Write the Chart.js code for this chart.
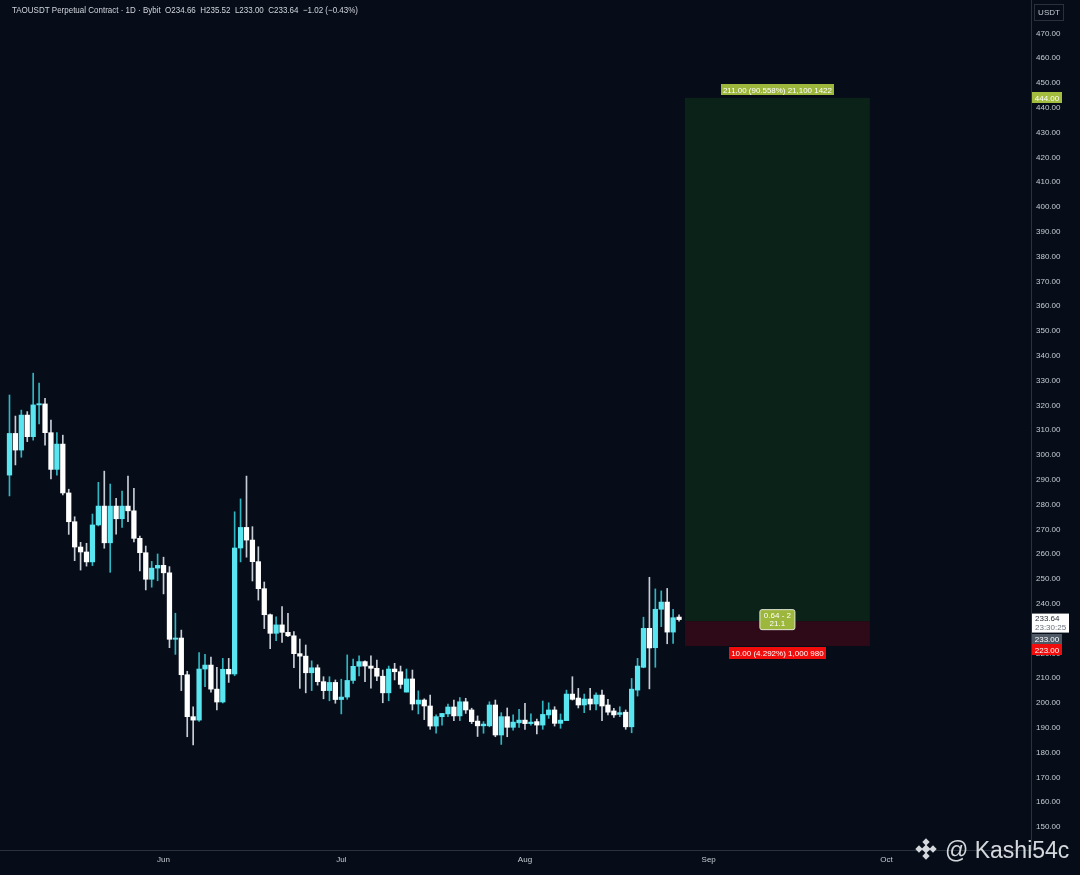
<!DOCTYPE html>
<html>
<head>
<meta charset="utf-8">
<title>TAOUSDT 1D</title>
<script src="https://cdn.jsdelivr.net/npm/chart.js@4.4.1/dist/chart.umd.min.js"></script>
<style>
  html, body { margin: 0; padding: 0; background: #060d18; }
  #wrap { position: relative; width: 1080px; height: 875px; }
</style>
</head>
<body>
<div id="wrap"><canvas id="chart" width="1080" height="875"></canvas></div>
<script>
// Daily candles, May 6 -> Aug 27 (one entry per day)
const opens = [
  291.9, 308.7, 302.0, 316.1, 307.4, 320.2, 320.6, 309.0, 294.2, 304.4,
  284.7, 273.1, 262.9, 260.9, 256.9, 271.8, 279.4, 264.6, 279.4, 274.3,
  279.4, 277.5, 266.4, 260.6, 249.9, 254.4, 255.5, 252.5, 225.7, 226.2,
  211.4, 194.5, 193.1, 213.7, 215.3, 205.6, 200.4, 213.6, 211.7, 262.5,
  270.8, 265.7, 257.0, 246.1, 235.6, 228.1, 231.5, 228.5, 227.1, 219.9,
  218.9, 212.2, 214.2, 208.6, 205.0, 208.3, 201.4, 202.4, 209.1, 214.8,
  216.7, 214.9, 214.0, 210.8, 204.1, 213.7, 212.6, 204.4, 209.7, 199.6,
  201.2, 198.8, 190.7, 194.5, 195.6, 198.4, 194.8, 200.5, 197.2, 192.7,
  190.8, 190.8, 199.2, 187.1, 194.5, 190.2, 192.0, 193.1, 191.7, 192.5,
  191.1, 195.2, 197.2, 191.8, 192.9, 203.6, 202.0, 199.2, 201.6, 199.6,
  203.2, 199.2, 196.8, 195.4, 196.3, 190.4, 205.2, 214.4, 230.1, 222.3,
  237.8, 240.7, 228.6, 234.66
];
const highs = [
  324.2, 315.7, 318.1, 317.5, 333.0, 329.0, 322.9, 314.1, 309.0, 308.0,
  286.2, 275.1, 264.8, 264.4, 276.2, 289.0, 293.5, 288.3, 282.5, 285.5,
  291.5, 286.6, 267.3, 263.3, 257.1, 260.1, 258.8, 255.0, 236.2, 229.4,
  212.8, 198.5, 220.3, 219.6, 218.5, 214.4, 218.0, 218.0, 277.1, 282.3,
  291.5, 271.1, 263.0, 248.8, 235.9, 234.7, 238.9, 236.2, 228.8, 225.8,
  223.4, 217.0, 215.4, 210.6, 210.6, 209.3, 209.6, 219.4, 217.7, 219.0,
  217.0, 219.0, 217.3, 213.3, 214.9, 216.0, 214.9, 213.7, 213.3, 204.9,
  201.7, 203.2, 195.2, 195.8, 199.6, 201.2, 202.2, 201.9, 197.9, 194.8,
  192.5, 200.5, 201.2, 196.1, 198.0, 195.2, 197.5, 199.9, 195.6, 193.5,
  200.8, 200.1, 198.5, 195.6, 205.2, 210.6, 205.9, 203.6, 205.9, 204.1,
  205.2, 201.5, 197.9, 198.5, 197.2, 209.9, 218.0, 234.6, 250.7, 246.0,
  245.2, 246.2, 237.8, 235.52
];
const lows = [
  283.5, 296.0, 299.1, 305.4, 306.0, 312.5, 304.0, 290.4, 291.9, 283.9,
  268.0, 257.4, 253.6, 255.2, 255.4, 271.4, 262.4, 252.7, 268.1, 270.8,
  273.1, 265.0, 253.3, 245.6, 246.7, 249.3, 244.0, 222.3, 219.6, 205.0,
  186.4, 183.1, 192.6, 206.6, 204.4, 197.2, 200.0, 208.3, 211.0, 256.9,
  258.8, 249.2, 241.5, 230.0, 221.9, 225.1, 224.4, 226.7, 214.2, 205.9,
  204.1, 205.0, 207.2, 201.7, 200.9, 199.9, 195.6, 201.5, 207.9, 210.9,
  208.6, 206.0, 209.0, 200.1, 200.9, 209.3, 205.9, 204.4, 197.2, 195.6,
  193.3, 189.4, 187.8, 191.1, 194.5, 192.9, 192.9, 195.8, 191.7, 186.5,
  187.8, 190.4, 186.4, 183.3, 186.4, 189.0, 190.2, 189.4, 191.1, 187.5,
  189.4, 193.8, 190.7, 189.8, 192.9, 201.2, 198.0, 196.1, 197.2, 197.2,
  192.9, 195.2, 194.2, 194.5, 189.4, 188.0, 202.8, 214.2, 205.7, 214.4,
  230.8, 223.9, 224.0, 233.00
];
const closes = [
  308.7, 302.0, 316.1, 307.4, 320.2, 320.6, 309.0, 294.2, 304.4, 284.7,
  273.1, 262.9, 260.9, 256.9, 271.8, 279.4, 264.6, 279.4, 274.3, 279.4,
  277.5, 266.4, 260.6, 249.9, 254.4, 255.5, 252.5, 225.7, 226.2, 211.4,
  194.5, 193.1, 213.7, 215.3, 205.6, 200.4, 213.6, 211.7, 262.5, 270.8,
  265.7, 257.0, 246.1, 235.6, 228.1, 231.5, 228.5, 227.1, 219.9, 218.9,
  212.2, 214.2, 208.6, 205.0, 208.3, 201.4, 202.4, 209.1, 214.8, 216.7,
  214.9, 214.0, 210.8, 204.1, 213.7, 212.6, 207.5, 209.7, 199.6, 201.2,
  198.8, 190.7, 194.5, 195.8, 198.4, 194.8, 200.5, 197.2, 192.5, 190.8,
  191.5, 199.2, 187.1, 194.5, 190.2, 192.3, 193.1, 191.7, 192.3, 191.1,
  195.4, 197.2, 191.8, 193.1, 203.6, 201.5, 199.2, 201.6, 199.6, 203.2,
  198.8, 196.3, 195.2, 196.1, 190.4, 205.6, 214.9, 230.1, 222.2, 237.8,
  240.7, 228.6, 234.4, 233.64
];

// x axis month ticks (candle index of the 1st of each month)
const monthLabels = ['Jun', 'Jul', 'Aug', 'Sep', 'Oct'];
const monthStarts = [26, 56, 87, 118, 148];

// long position tool
const entryPrice = 233.00;
const targetPrice = 444.00;
const stopPrice = 223.00;
const lastPrice = 233.64;

const upBody = '#5ae6f0';
const downBody = '#ffffff';
const upWick = '#2fb6c2';
const downWick = '#c9ced6';
const textColor = '#c7cbd3';
const FONT = '"Liberation Sans", Arial, sans-serif';

const isUp = opens.map((o, i) => closes[i] >= o);

function tag(ctx, text, cx, cy, bg, fg, w, h) {
    ctx.fillStyle = bg;
    ctx.fillRect(Math.round(cx - w / 2), Math.round(cy - h / 2), w, h);
    ctx.fillStyle = fg;
    ctx.textAlign = 'center';
    ctx.textBaseline = 'middle';
    ctx.fillText(text, cx, cy + 0.5, w - 4);
}

const overlay = {
    id: 'overlay',
    beforeDatasetsDraw(chart) {
        const { ctx, scales: { x, y } } = chart;
        const x0 = x.getPixelForValue(114.0);
        const x1 = x.getPixelForValue(145.2);
        const yT = y.getPixelForValue(targetPrice);
        const yE = y.getPixelForValue(entryPrice);
        const yS = y.getPixelForValue(stopPrice);
        ctx.save();
        ctx.fillStyle = '#0a2218';
        ctx.fillRect(x0, yT, x1 - x0, yE - yT);
        ctx.fillStyle = '#2e0a18';
        ctx.fillRect(x0, yE, x1 - x0, yS - yE);
        ctx.restore();
    },
    afterDraw(chart) {
        const { ctx, scales: { x, y } } = chart;
        const x0 = x.getPixelForValue(114.0);
        const x1 = x.getPixelForValue(145.2);
        const cx = (x0 + x1) / 2;
        const yT = y.getPixelForValue(targetPrice);
        const yE = y.getPixelForValue(entryPrice);
        const yS = y.getPixelForValue(stopPrice);
        ctx.save();

        // header
        ctx.font = '9px ' + FONT;
        ctx.fillStyle = '#d1d4dc';
        ctx.textAlign = 'left';
        ctx.textBaseline = 'middle';
        ctx.fillText('TAOUSDT Perpetual Contract · 1D · Bybit  O234.66  H235.52  L233.00  C233.64  \u22121.02 (\u22120.43%)', 12, 11, 346);

        // position tool labels
        ctx.font = '8px ' + FONT;
        tag(ctx, '211.00 (90.558%) 21,100 1422', cx, yT - 8, '#9db63c', '#ffffff', 113, 11);
        tag(ctx, '10.00 (4.292%) 1,000 980', cx, yS + 7, '#f20d0d', '#ffffff', 97, 12);

        // risk/reward box
        ctx.fillStyle = '#9db63c';
        ctx.strokeStyle = '#e6ebd5';
        ctx.lineWidth = 1;
        ctx.beginPath();
        ctx.roundRect(cx - 17.5, yE - 11.5, 35, 20, 2);
        ctx.fill();
        ctx.stroke();
        ctx.fillStyle = '#ffffff';
        ctx.textAlign = 'center';
        ctx.fillText('0.64 - 2', cx, yE - 5.5);
        ctx.fillText('21.1', cx, yE + 3);

        // price scale tags
        const ax = chart.chartArea.right;
        const yL = y.getPixelForValue(lastPrice);
        ctx.font = '8px ' + FONT;
        tag(ctx, '444.00', ax + 16, yT, '#a3bd3f', '#ffffff', 30, 11);
        ctx.fillStyle = '#ffffff';
        ctx.fillRect(ax + 1, yL - 6, 37, 19);
        ctx.fillStyle = '#2a2e39';
        ctx.textAlign = 'left';
        ctx.fillText('233.64', ax + 4, yL - 0.5);
        ctx.fillStyle = '#6a707a';
        ctx.fillText('23:30:25', ax + 4, yL + 8);
        tag(ctx, '233.00', ax + 16, yE + 18, '#4f5966', '#ffffff', 30, 10);
        tag(ctx, '223.00', ax + 16, yS + 4, '#f20d0d', '#ffffff', 30, 11);

        // currency box
        ctx.strokeStyle = '#2a313c';
        ctx.strokeRect(ax + 3.5, 4.5, 29, 16);
        ctx.fillStyle = '#c7cbd3';
        ctx.textAlign = 'center';
        ctx.fillText('USDT', ax + 18, 13);

        // watermark
        ctx.fillStyle = 'rgba(235,238,242,0.9)';
        const lx = 926, ly = 849;
        [[0, -7], [-7, 0], [7, 0], [0, 7], [0, 0]].forEach(([dx, dy], k) => {
            ctx.save();
            ctx.translate(lx + dx, ly + dy);
            ctx.rotate(Math.PI / 4);
            const s = k === 4 ? 3.2 : 2.6;
            ctx.fillRect(-s, -s, s * 2, s * 2);
            ctx.restore();
        });
        ctx.font = '23px ' + FONT;
        ctx.textAlign = 'left';
        ctx.textBaseline = 'alphabetic';
        ctx.fillText('@ Kashi54c', 945, 858, 128);
        ctx.restore();
    }
};

new Chart(document.getElementById('chart'), {
    type: 'bar',
    data: {
        datasets: [
            {
                label: 'body',
                data: opens.map((o, i) => ({ x: i, y: [o, closes[i]] })),
                backgroundColor: isUp.map(u => u ? upBody : downBody),
                barThickness: 4.6,
                minBarLength: 1.2,
                grouped: false,
                borderWidth: 0,
                order: 1
            },
            {
                label: 'wick',
                data: opens.map((o, i) => ({ x: i, y: [lows[i], highs[i]] })),
                backgroundColor: isUp.map(u => u ? upWick : downWick),
                barThickness: 1,
                grouped: false,
                borderWidth: 0,
                order: 2
            }
        ]
    },
    options: {
        responsive: false,
        animation: false,
        devicePixelRatio: 1,
        layout: { padding: 0 },
        plugins: { legend: { display: false }, tooltip: { enabled: false } },
        scales: {
            x: {
                type: 'linear',
                offset: false,
                min: -1.6,
                max: 172.4,
                grid: { display: false, drawTicks: false },
                border: { display: true, color: '#2a323d' },
                afterFit: s => { s.height = 25; s.paddingLeft = 0; s.paddingRight = 0; },
                afterBuildTicks: s => { s.ticks = monthStarts.map(v => ({ value: v })); },
                ticks: {
                    autoSkip: false,
                    maxRotation: 0,
                    padding: 5,
                    color: textColor,
                    font: { family: FONT, size: 8 },
                    callback: v => monthLabels[monthStarts.indexOf(v)]
                }
            },
            y: {
                position: 'right',
                min: 140.73,
                max: 483.47,
                grid: { display: false, drawTicks: false },
                border: { display: true, color: '#2a323d' },
                afterFit: s => { s.width = 49; s.paddingTop = 0; s.paddingBottom = 0; },
                ticks: {
                    stepSize: 10,
                    includeBounds: false,
                    padding: 5,
                    color: textColor,
                    font: { family: FONT, size: 8 },
                    callback: v => (v >= 480 ? '' : v.toFixed(2))
                }
            }
        }
    },
    plugins: [overlay]
});
</script>
</body>
</html>
